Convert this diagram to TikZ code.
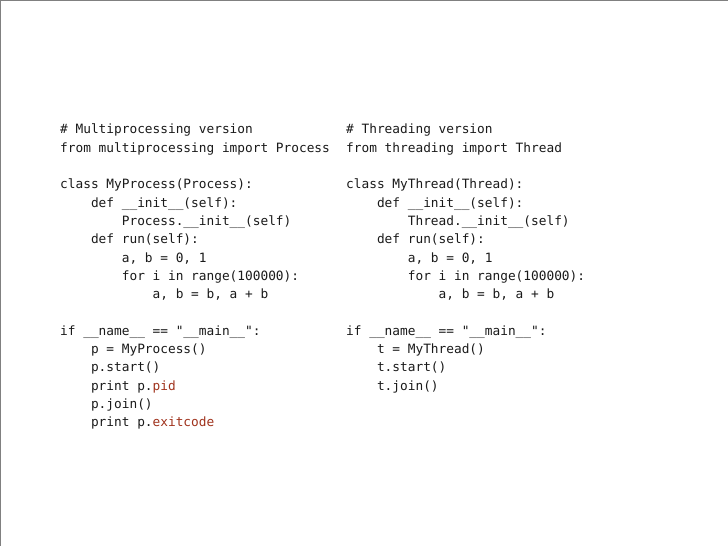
\documentclass[tikz,border=0pt]{standalone}
\usepackage{fontspec}
\setmonofont{DejaVu Sans Mono}
\definecolor{kw}{HTML}{A0321C}
\definecolor{tx}{HTML}{1A1A1A}
\begin{document}
\begin{tikzpicture}[x=1pt,y=-1pt,
  code/.style={anchor=north west,inner sep=0pt,font=\fontsize{12.8}{18.3}\selectfont\ttfamily,text=tx,align=left}]
\useasboundingbox (0,0) rectangle (728,546);
\fill[white] (0,0) rectangle (728,546);
\draw[gray,line width=1.2pt] (0.6,546) -- (0.6,0.6) -- (728,0.6);
\node[code] (left) at (60,124) {\# Multiprocessing version\\
from multiprocessing import Process\\
\strut\\
class MyProcess(Process):\\
\ \ \ \ def \_\_init\_\_(self):\\
\ \ \ \ \ \ \ \ Process.\_\_init\_\_(self)\\
\ \ \ \ def run(self):\\
\ \ \ \ \ \ \ \ a, b = 0, 1\\
\ \ \ \ \ \ \ \ for i in range(100000):\\
\ \ \ \ \ \ \ \ \ \ \ \ a, b = b, a + b\\
\strut\\
if \_\_name\_\_ == "\_\_main\_\_":\\
\ \ \ \ p = MyProcess()\\
\ \ \ \ p.start()\\
\ \ \ \ print p.\textcolor{kw}{pid}\\
\ \ \ \ p.join()\\
\ \ \ \ print p.\textcolor{kw}{exitcode}};
\node[code] (right) at (346,124) {\# Threading version\\
from threading import Thread\\
\strut\\
class MyThread(Thread):\\
\ \ \ \ def \_\_init\_\_(self):\\
\ \ \ \ \ \ \ \ Thread.\_\_init\_\_(self)\\
\ \ \ \ def run(self):\\
\ \ \ \ \ \ \ \ a, b = 0, 1\\
\ \ \ \ \ \ \ \ for i in range(100000):\\
\ \ \ \ \ \ \ \ \ \ \ \ a, b = b, a + b\\
\strut\\
if \_\_name\_\_ == "\_\_main\_\_":\\
\ \ \ \ t = MyThread()\\
\ \ \ \ t.start()\\
\ \ \ \ t.join()};
\end{tikzpicture}
\end{document}
